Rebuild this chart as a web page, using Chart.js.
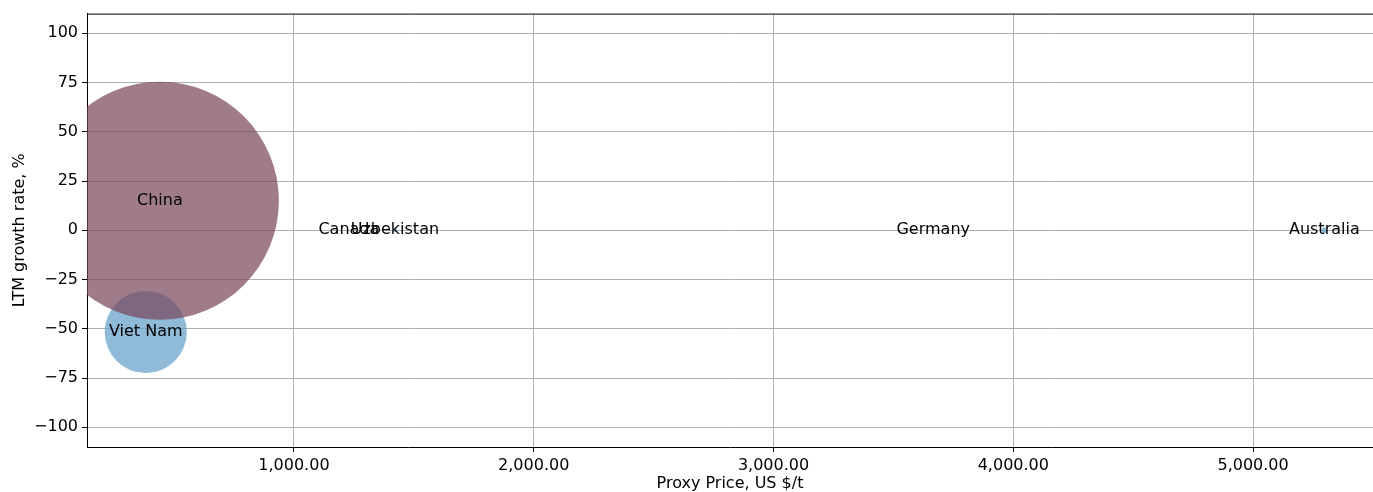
<!DOCTYPE html>
<html>
<head>
<meta charset="utf-8">
<script src="https://cdn.jsdelivr.net/npm/chart.js@4"></script>
<style>
html,body{margin:0;padding:0;background:#fff;}
canvas{display:block;}
</style>
</head>
<body>
<canvas id="c" width="1373" height="492"></canvas>
<script>
// ---- data ----
const countries = ["Viet Nam", "Canada", "Uzbekistan", "Germany", "Australia", "China"];
const proxyPrice = [382, 1229, 1421, 3666, 5297, 441];
const growthRate = [-51.6, 0, 0, 0, 0, 15];
const volume = [11900, 1, 30, 0.5, 60, 100000];
const colorGroup = ["blue", "blue", "blue", "blue", "blue", "purple"];
const xTicks = [1000, 2000, 3000, 4000, 5000];
const yTicks = [-100, -75, -50, -25, 0, 25, 50, 75, 100];
const xTitle = "Proxy Price, US $/t";
const yTitle = "LTM growth rate, %";

// ---- styling ----
const FONT = "'DejaVu Sans', sans-serif";
const palette = { blue: "rgba(95,158,201,0.7)", purple: "rgba(119,69,88,0.7)" };
const maxVol = Math.max(...volume);
const MAX_R = 119;

const points = countries.map((c, i) => ({
  x: proxyPrice[i], y: growthRate[i],
  r: MAX_R * Math.sqrt(volume[i] / maxVol)
}));

const extras = {
  id: "extras",
  afterDraw(chart) {
    const ctx = chart.ctx, a = chart.chartArea;
    ctx.save();
    // top spine
    ctx.strokeStyle = "#000"; ctx.lineWidth = 1;
    ctx.beginPath(); ctx.moveTo(a.left, a.top + 0.5); ctx.lineTo(a.right, a.top + 0.5); ctx.stroke();
    // labels
    const meta = chart.getDatasetMeta(0);
    ctx.fillStyle = "#000";
    ctx.font = "16px " + FONT;
    ctx.textAlign = "center"; ctx.textBaseline = "middle";
    meta.data.forEach((el, i) => { ctx.fillText(countries[i], el.x, el.y); });
    // axis titles
    ctx.fillText(xTitle, (a.left + a.right) / 2, 484);
    ctx.translate(20, (a.top + a.bottom) / 2);
    ctx.rotate(-Math.PI / 2);
    ctx.fillText(yTitle, 0, 0);
    ctx.restore();
  }
};

new Chart(document.getElementById("c"), {
  type: "bubble",
  data: {
    datasets: [{
      data: points,
      backgroundColor: colorGroup.map(g => palette[g]),
      hoverBackgroundColor: colorGroup.map(g => palette[g]),
      borderWidth: 0,
      hoverBorderWidth: 0,
      clip: 0
    }]
  },
  options: {
    responsive: false,
    animation: false,
    events: [],
    layout: { autoPadding: false, padding: { top: 13, right: 0, left: 0, bottom: 0 } },
    plugins: { legend: { display: false }, tooltip: { enabled: false } },
    scales: {
      x: {
        type: "linear", min: 137, max: 5500, z: 1,
        afterBuildTicks: s => { s.ticks = xTicks.map(v => ({ value: v })); },
        afterFit: s => { s.height = 45; },
        grid: { color: "#b0b0b0", lineWidth: 1, tickColor: "#000", tickLength: 5 },
        border: { color: "#000", width: 1 },
        ticks: {
          font: { family: FONT, size: 16 }, color: "#000", padding: 4, maxRotation: 0,
          callback: v => v.toLocaleString("en-US", { minimumFractionDigits: 2, maximumFractionDigits: 2 })
        }
      },
      y: {
        type: "linear", min: -110, max: 110, z: 1,
        afterBuildTicks: s => { s.ticks = yTicks.map(v => ({ value: v })); },
        afterFit: s => { s.width = 87; },
        grid: { color: "#b0b0b0", lineWidth: 1, tickColor: "#000", tickLength: 5 },
        border: { color: "#000", width: 1 },
        ticks: {
          font: { family: FONT, size: 16 }, color: "#000", padding: 4,
          callback: v => String(v).replace("-", "\u2212")
        }
      }
    }
  },
  plugins: [extras]
});
</script>
</body>
</html>
